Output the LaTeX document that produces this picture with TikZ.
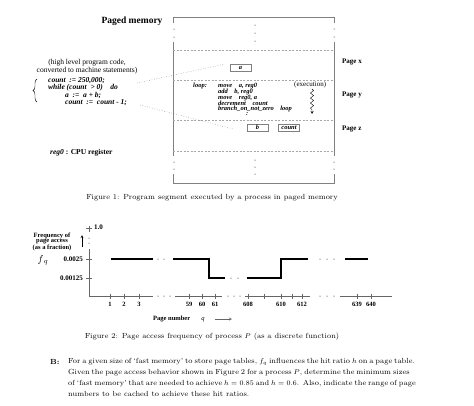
\documentclass[tikz,border=0pt]{standalone}
\usepackage{amsmath}
\usepackage{fontspec}
\newfontfamily\timesfont{Liberation Serif}
\usetikzlibrary{arrows,decorations.pathmorphing,decorations.pathreplacing}
\begin{document}
\begin{tikzpicture}[x=1pt,y=-1pt]
\tikzset{TextStyle/.style={inner sep=0pt,font=\timesfont\fontsize{7.5}{8}\selectfont},
BoldStyle/.style={inner sep=0pt,font=\timesfont\bfseries\fontsize{7}{8}\selectfont},
SmallBold/.style={inner sep=0pt,font=\timesfont\bfseries\fontsize{6.5}{7}\selectfont},
CodeStyle/.style={inner sep=0pt,anchor=west,font=\timesfont\bfseries\itshape\fontsize{7.5}{8}\selectfont},
LoopStyle/.style={inner sep=0pt,anchor=west,font=\timesfont\bfseries\itshape\fontsize{6.5}{7}\selectfont},
CellStyle/.style={draw=gray,fill=white,inner sep=0pt,minimum width=21pt,minimum height=7.5pt,font=\timesfont\bfseries\itshape\fontsize{6.5}{7}\selectfont},
PageLine/.style={gray!70,dash pattern=on 2pt off 1.5pt,line width=0.4pt},
HintLine/.style={gray,dotted,line width=0.5pt},
FrameLine/.style={gray,line width=0.5pt},
AxisLine/.style={gray!80!black,line width=0.4pt},
StepLine/.style={line width=1.2pt},
CaptionStyle/.style={inner sep=0pt,font=\fontsize{7.4}{9}\selectfont}}
\useasboundingbox (0,0) rectangle (474,405);
\node[inner sep=0pt,font=\timesfont\bfseries\fontsize{9.5}{10}\selectfont] (title) at (132,21) {Paged memory};
\draw[FrameLine] (173,23) -- (173,17) -- (334,17) -- (334,23);
\draw[FrameLine] (173,42) -- (173,156);
\draw[FrameLine] (334,42) -- (334,156);
\draw[FrameLine] (173,174) -- (173,183) -- (334,183) -- (334,174);
\foreach \y in {29,37,162,169} {\fill (174,\y) circle (0.5); \fill (334,\y) circle (0.5);}
\foreach \y in {25,33,41,160,167,174} \fill (255,\y) circle (0.5);
\foreach \y in {50,80,120,151} \draw[PageLine] (173,\y) -- (334,\y);
\node[BoldStyle,anchor=west] (px) at (342,62) {Page x};
\node[BoldStyle,anchor=west] (py) at (342,95) {Page y};
\node[BoldStyle,anchor=west] (pz) at (342,129) {Page z};
\node[CellStyle] (a) at (240.5,67.5) {a};
\node[CellStyle] (b) at (257.5,127.5) {b};
\node[CellStyle] (count) at (289,127.5) {count};
\node[LoopStyle] (loop) at (193,86) {loop:};
\node[LoopStyle] (c1) at (218,86) {move\quad a, reg0};
\node[LoopStyle] (c2) at (218,91.8) {add\quad b, reg0};
\node[LoopStyle] (c3) at (218,97.6) {move\quad reg0, a};
\node[LoopStyle] (c4) at (218,103.4) {decrement\quad count};
\node[LoopStyle] (c5) at (218,109.2) {branch\_on\_not\_zero\quad loop};
\node[LoopStyle] (c6) at (246,114.5) {:};
\node[TextStyle,anchor=west,font=\timesfont\fontsize{7}{8}\selectfont] (exec) at (294,85) {(execution)};
\draw[decorate,decoration={snake,amplitude=1.6pt,segment length=5pt,post length=2pt},-stealth,line width=0.4pt] (312,89) -- (312,114);
\node[TextStyle,align=center,font=\timesfont\fontsize{7.5}{6}\selectfont] (hl) at (87,67) {(high level program code,\\converted to machine statements)};
\node[CodeStyle] (s1) at (48,81) {count\enspace:= 250,000;};
\node[CodeStyle] (s2) at (48,88) {while (count\enspace > 0)\quad do};
\node[CodeStyle] (s3) at (65,95) {a\enspace:=\enspace a + b;};
\node[CodeStyle] (s4) at (65,103) {count\enspace:=\enspace count - 1;};
\draw[decorate,decoration={brace,amplitude=4pt},line width=0.4pt] (37,102) -- (37,79);
\coordinate (h1) at (137,83);
\coordinate (h2) at (140,105);
\coordinate (ha) at (225,64);
\coordinate (hb) at (233,129);
\draw[HintLine] (h1) -- (ha);
\draw[HintLine] (h2) -- (hb);
\node[CodeStyle] (reg) at (50,153) {reg0 \normalfont\timesfont\bfseries\fontsize{7.5}{8}\selectfont: CPU register};
\node[CaptionStyle] (cap1) at (212,198) {Figure 1: Program segment executed by a process in paged memory};
\draw[AxisLine] (89,226) -- (89,232);
\draw[AxisLine] (89,249) -- (89,296);
\foreach \y in {238,243} \fill (89,\y) circle (0.5);
\foreach \y in {228,259,278} \draw[AxisLine] (86,\y) -- (92,\y);
\node[BoldStyle,anchor=west] (t10) at (94,227) {1.0};
\node[BoldStyle,anchor=east] (t25) at (83,259) {0.0025};
\node[BoldStyle,anchor=east] (t125) at (83,278) {0.00125};
\node[SmallBold,align=center,font=\timesfont\bfseries\fontsize{6.5}{5}\selectfont] (ylab) at (52,242) {Frequency of\\page access\\(as a fraction)};
\draw[-stealth,line width=0.4pt] (82,247) -- (82,235);
\node[inner sep=0pt,font=\fontsize{10}{12}\selectfont] (fq) at (43,260) {$f_{\,q}$};
\draw[AxisLine] (89,296) -- (153,296);
\draw[AxisLine] (175,296) -- (222,296);
\draw[AxisLine] (245,296) -- (310,296);
\draw[AxisLine] (340,296) -- (392,296);
\foreach \x in {158,164,170,228,234,240,320,327,334} \fill (\x,296) circle (0.5);
\foreach \x/\t in {110/1,124/2,139/3,189/59,202/60,215/61,248/608,281/610,302/612,357/639,371/640} {\draw[AxisLine] (\x,293.5) -- (\x,298.5); \node[SmallBold] at (\x,304) {\t};}
\foreach \x in {264,292} \draw[AxisLine] (\x,293.5) -- (\x,298.5);
\draw[StepLine] (111,259) -- (153,259);
\draw[StepLine] (173,259) -- (209,259) -- (209,278) -- (225,278);
\draw[StepLine] (247,278) -- (281,278) -- (281,259) -- (308,259);
\draw[StepLine] (345,259) -- (368,259);
\foreach \x in {158,164} \fill (\x,259) circle (0.5);
\foreach \x in {231,238} \fill (\x,278) circle (0.5);
\foreach \x in {320,327,334} \fill (\x,259) circle (0.5);
\node[SmallBold,anchor=west] (pn) at (153,319) {Page number};
\node[inner sep=0pt,font=\timesfont\itshape\fontsize{6.5}{7}\selectfont] (q) at (203,319.5) {q};
\coordinate (qa) at (215,319);
\coordinate (qb) at (232,319);
\draw[-stealth,line width=0.4pt,gray!80!black] (qa) -- (qb);
\node[CaptionStyle] (cap2) at (212,337) {Figure 2: Page access frequency of process $P$ (as a discrete function)};
\node[CaptionStyle,font=\bfseries\fontsize{7.4}{9}\selectfont,anchor=west] (B) at (50,362) {B:};
\node[CaptionStyle,anchor=west] (l1) at (68,362) {\makebox[329pt][s]{For a given size of `fast memory' to store page tables, $f_q$ influences the hit ratio $h$ on a page table.}};
\node[CaptionStyle,anchor=west] (l2) at (68,372.5) {\makebox[329pt][s]{Given the page access behavior shown in Figure 2 for a process $P$, determine the minimum sizes}};
\node[CaptionStyle,anchor=west] (l3) at (68,383.5) {\makebox[329pt][s]{of `fast memory' that are needed to achieve $h = 0.85$ and $h = 0.6$. Also, indicate the range of page}};
\node[CaptionStyle,anchor=west] (l4) at (68,394) {numbers to be cached to achieve these hit ratios.};
\end{tikzpicture}
\end{document}
